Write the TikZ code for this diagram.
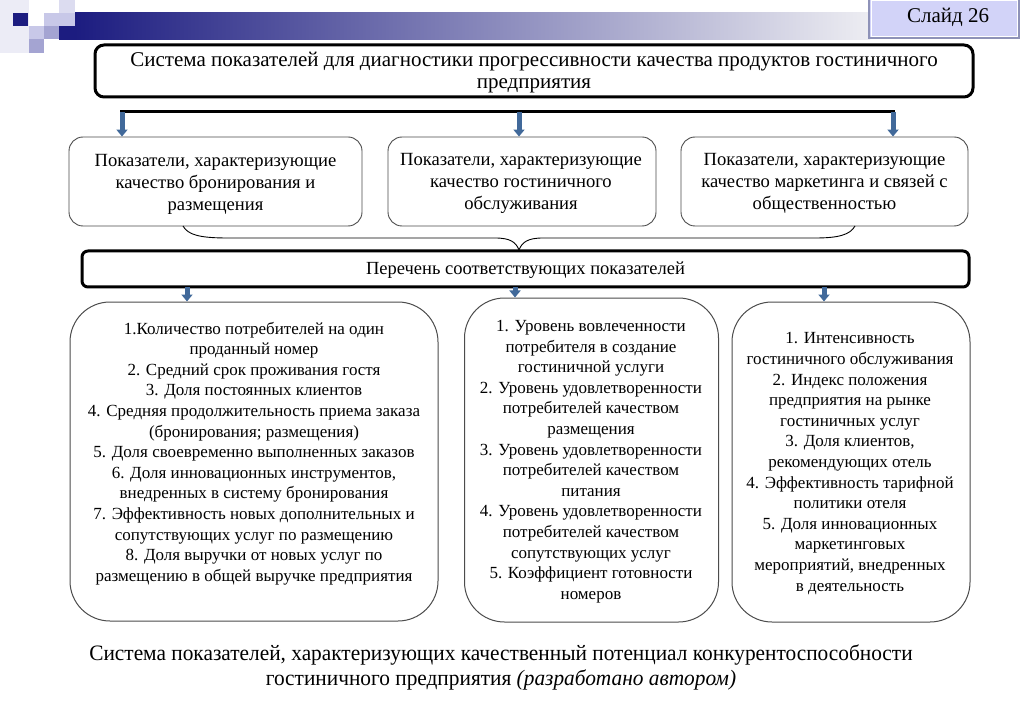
\documentclass[tikz,border=0pt]{standalone}
\usepackage{fontspec}
\setmainfont{Liberation Serif}
\newfontfamily\condfont[FakeStretch=0.97]{Liberation Serif}
\usetikzlibrary{arrows.meta}
\definecolor{navy}{HTML}{1C1C80}
\definecolor{arrowblue}{HTML}{41699A}
\definecolor{lavender}{HTML}{D2D3F8}
\definecolor{frameblue}{HTML}{8E92B8}
\definecolor{sqA}{HTML}{ECECF6}
\definecolor{sqB}{HTML}{C8C8E8}
\definecolor{sqC}{HTML}{A4A4D2}
\definecolor{sqD}{HTML}{DCDCF0}
\definecolor{barend}{HTML}{EDEDF2}
\begin{document}
\begin{tikzpicture}[x=1pt,y=-1pt,
  thickbox/.style={draw=black,line width=3pt,rounded corners=9pt,inner sep=0pt},
  softbox/.style={draw=black!70,line width=0.9pt,rounded corners=14pt,fill=white,inner sep=0pt},
  boxtext/.style={align=center,inner sep=0pt,font=\fontsize{18.6}{22}\selectfont},
  bigbox/.style={draw=black!70,line width=1pt,rounded corners=40pt,inner sep=0pt},
  listtext/.style={align=center,inner sep=0pt,font=\fontsize{17}{20.6}\selectfont},
  bluearrow/.style={draw=arrowblue,line width=5pt,-{Triangle[width=11pt,length=7pt]}},
  bracestyle/.style={draw=black,line width=0.9pt},
  barline/.style={draw=black,line width=3pt}
]
\useasboundingbox (0,0) rectangle (1024,708);
\fill[white] (0,0) rectangle (1024,708);

% top-left decoration
\fill[sqA] (0,0) rectangle (29,53);
\fill[navy] (13,13) rectangle (28,26);
\fill[sqB] (29,26) rectangle (44,39);
\fill[sqB] (44,13) rectangle (59,26);
\fill[sqC] (44,26) rectangle (59,39);
\fill[sqC] (29,39) rectangle (44,53);
\fill[sqD] (59,0) rectangle (75,13);
\fill[sqB] (59,13) rectangle (75,26);
\fill[navy] (59,26) rectangle (75,40);
\shade[left color=navy,right color=barend] (75,13) rectangle (870,40);

% slide label
\node[draw=frameblue,line width=2pt,fill=lavender,minimum width=150pt,minimum height=40pt,inner sep=0pt] (slide) at (944,18) {};
\draw[white,line width=0.8pt] ([shift={(3,-3)}]slide.south west) rectangle ([shift={(-3,3)}]slide.north east);
\node[inner sep=0pt,font=\fontsize{21}{24}\selectfont] (slidetext) at (948,17) {Слайд 26};

% title
\node[thickbox,minimum width=878pt,minimum height=52pt] (title) at (534,71) {};
\node[align=center,inner sep=0pt,font=\fontsize{21}{22}\selectfont] (titletext) at (534,73)
  {Система показателей для диагностики прогрессивности качества продуктов гостиничного\\предприятия};

% distribution line
\coordinate (t1) at (122,112);
\coordinate (t2) at (519,112);
\coordinate (t3) at (893,112);
\draw[barline] ([xshift=-2pt]t1) -- ([xshift=2pt]t3);

% three category boxes
\node[softbox,minimum width=293pt,minimum height=89pt] (c1) at (215.5,181.5) {};
\node[softbox,minimum width=268pt,minimum height=89pt] (c2) at (522,181.5) {};
\node[softbox,minimum width=287pt,minimum height=89pt] (c3) at (824.5,181.5) {};
\node[boxtext] (c1t) at (215.5,184) {Показатели, характеризующие\\качество бронирования и\\размещения};
\node[boxtext] (c2t) at (521,183) {Показатели, характеризующие\\качество гостиничного\\обслуживания};
\node[boxtext] (c3t) at (824.5,183) {Показатели, характеризующие\\качество маркетинга и связей с\\общественностью};

\draw[bluearrow] (t1) -- (t1 |- c1.north);
\draw[bluearrow] (t2) -- (t2 |- c2.north);
\draw[bluearrow] (t3) -- (t3 |- c3.north);

% list heading box
\node[thickbox,rounded corners=6pt,minimum width=887pt,minimum height=36pt] (list) at (525.5,269) {};
\node[inner sep=0pt,font=\fontsize{18.5}{20}\selectfont] (listtext) at (525.5,270.5) {Перечень соответствующих показателей};

% brace
\coordinate (bl) at (183,226);
\coordinate (br) at (855,226);
\coordinate (bt) at (519,250);
\draw[bracestyle] (bl) .. controls (188,235) and (200,238) .. (228,238) -- (495,238)
   .. controls (510,238) and (516,242) .. (bt)
   .. controls (522,242) and (528,238) .. (543,238) -- (815,238)
   .. controls (838,238) and (850,235) .. (br);

% bottom boxes
\node[bigbox,minimum width=368pt,minimum height=319pt] (b1) at (254,461.5) {};
\node[bigbox,minimum width=254pt,minimum height=324pt] (b2) at (591.5,460) {};
\node[bigbox,minimum width=238pt,minimum height=320pt] (b3) at (851,462) {};

\coordinate (s1) at (187,287);
\coordinate (s2) at (515,287);
\coordinate (s3) at (824,287);
\draw[bluearrow] (s1) -- (s1 |- b1.north);
\draw[bluearrow] (s2) -- (s2 |- b2.north);
\draw[bluearrow] (s3) -- (s3 |- b3.north);

\node[listtext] (l1) at (254,453.5) {1.Количество потребителей на один\\проданный номер\\2. Средний срок проживания гостя\\3. Доля постоянных клиентов\\4. Средняя продолжительность приема заказа\\(бронирования; размещения)\\5. Доля своевременно выполненных заказов\\6. Доля инновационных инструментов,\\внедренных в систему бронирования\\7. Эффективность новых дополнительных и\\сопутствующих услуг  по размещению\\8. Доля выручки от новых услуг по\\размещению в общей выручке предприятия};

\node[listtext] (l2) at (591,461.5) {1. Уровень вовлеченности\\потребителя в создание\\гостиничной услуги\\2. Уровень удовлетворенности\\потребителей качеством\\размещения\\3. Уровень удовлетворенности\\потребителей качеством\\питания\\4. Уровень удовлетворенности\\потребителей качеством\\сопутствующих услуг\\5. Коэффициент  готовности\\номеров};

\node[listtext] (l3) at (850,463.5) {1. Интенсивность\\гостиничного обслуживания\\2.  Индекс положения\\предприятия на рынке\\гостиничных услуг\\3. Доля клиентов,\\рекомендующих отель\\4. Эффективность тарифной\\политики отеля\\5. Доля инновационных\\маркетинговых\\мероприятий, внедренных\\в деятельность};

% caption
\node[align=center,inner sep=0pt,font=\condfont\fontsize{22}{25}\selectfont] (cap) at (501,667.5)
  {Система показателей, характеризующих качественный потенциал  конкурентоспособности\\гостиничного предприятия \textit{(разработано автором)}};
\end{tikzpicture}
\end{document}
